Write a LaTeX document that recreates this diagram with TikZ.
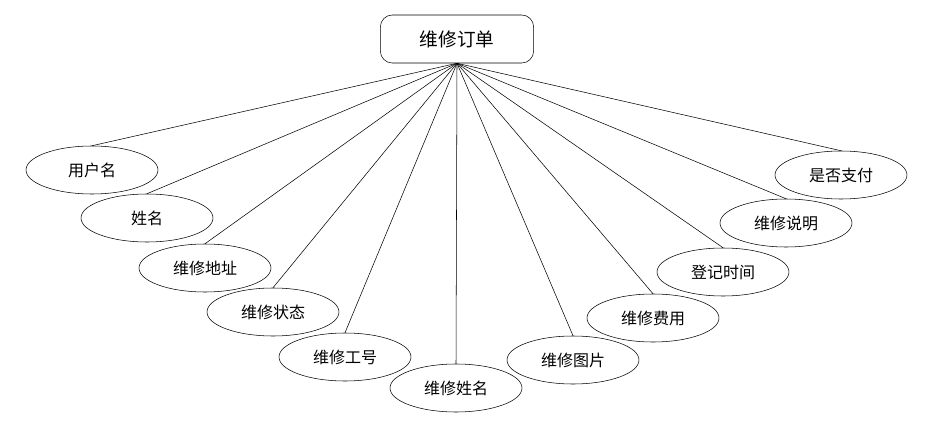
\documentclass[tikz,border=0pt]{standalone}
\usepackage{fontspec}
\setmainfont{Noto Sans CJK SC}
\usetikzlibrary{shapes.geometric}
\tikzset{
  attr/.style={draw, ellipse, minimum width=99pt, minimum height=36pt, inner sep=0pt, font=\fontsize{12}{14}\selectfont},
  entity/.style={draw, rounded corners=9pt, minimum width=115pt, minimum height=36pt, inner sep=0pt, font=\fontsize{14}{16}\selectfont}
}
\begin{document}
\begin{tikzpicture}[x=0.75pt,y=-0.75pt]
\useasboundingbox (0,0) rectangle (950,428);
\node[entity] (order) at (457,39) {维修订单};
\node[attr] (user) at (92,170) {用户名};
\node[attr] (name) at (147,218) {姓名};
\node[attr] (addr) at (205,268) {维修地址};
\node[attr] (state) at (273,312) {维修状态};
\node[attr] (workno) at (345,357) {维修工号};
\node[attr] (worker) at (456,388) {维修姓名};
\node[attr] (pic) at (573,360) {维修图片};
\node[attr] (fee) at (653,318) {维修费用};
\node[attr] (time) at (723,272) {登记时间};
\node[attr] (note) at (786,223) {维修说明};
\node[attr] (paid) at (841,175) {是否支付};
\foreach \a in {user,name,addr,state,workno,worker,pic,fee,time,note,paid}
  \draw (order.south) -- (\a.north);
\end{tikzpicture}
\end{document}
